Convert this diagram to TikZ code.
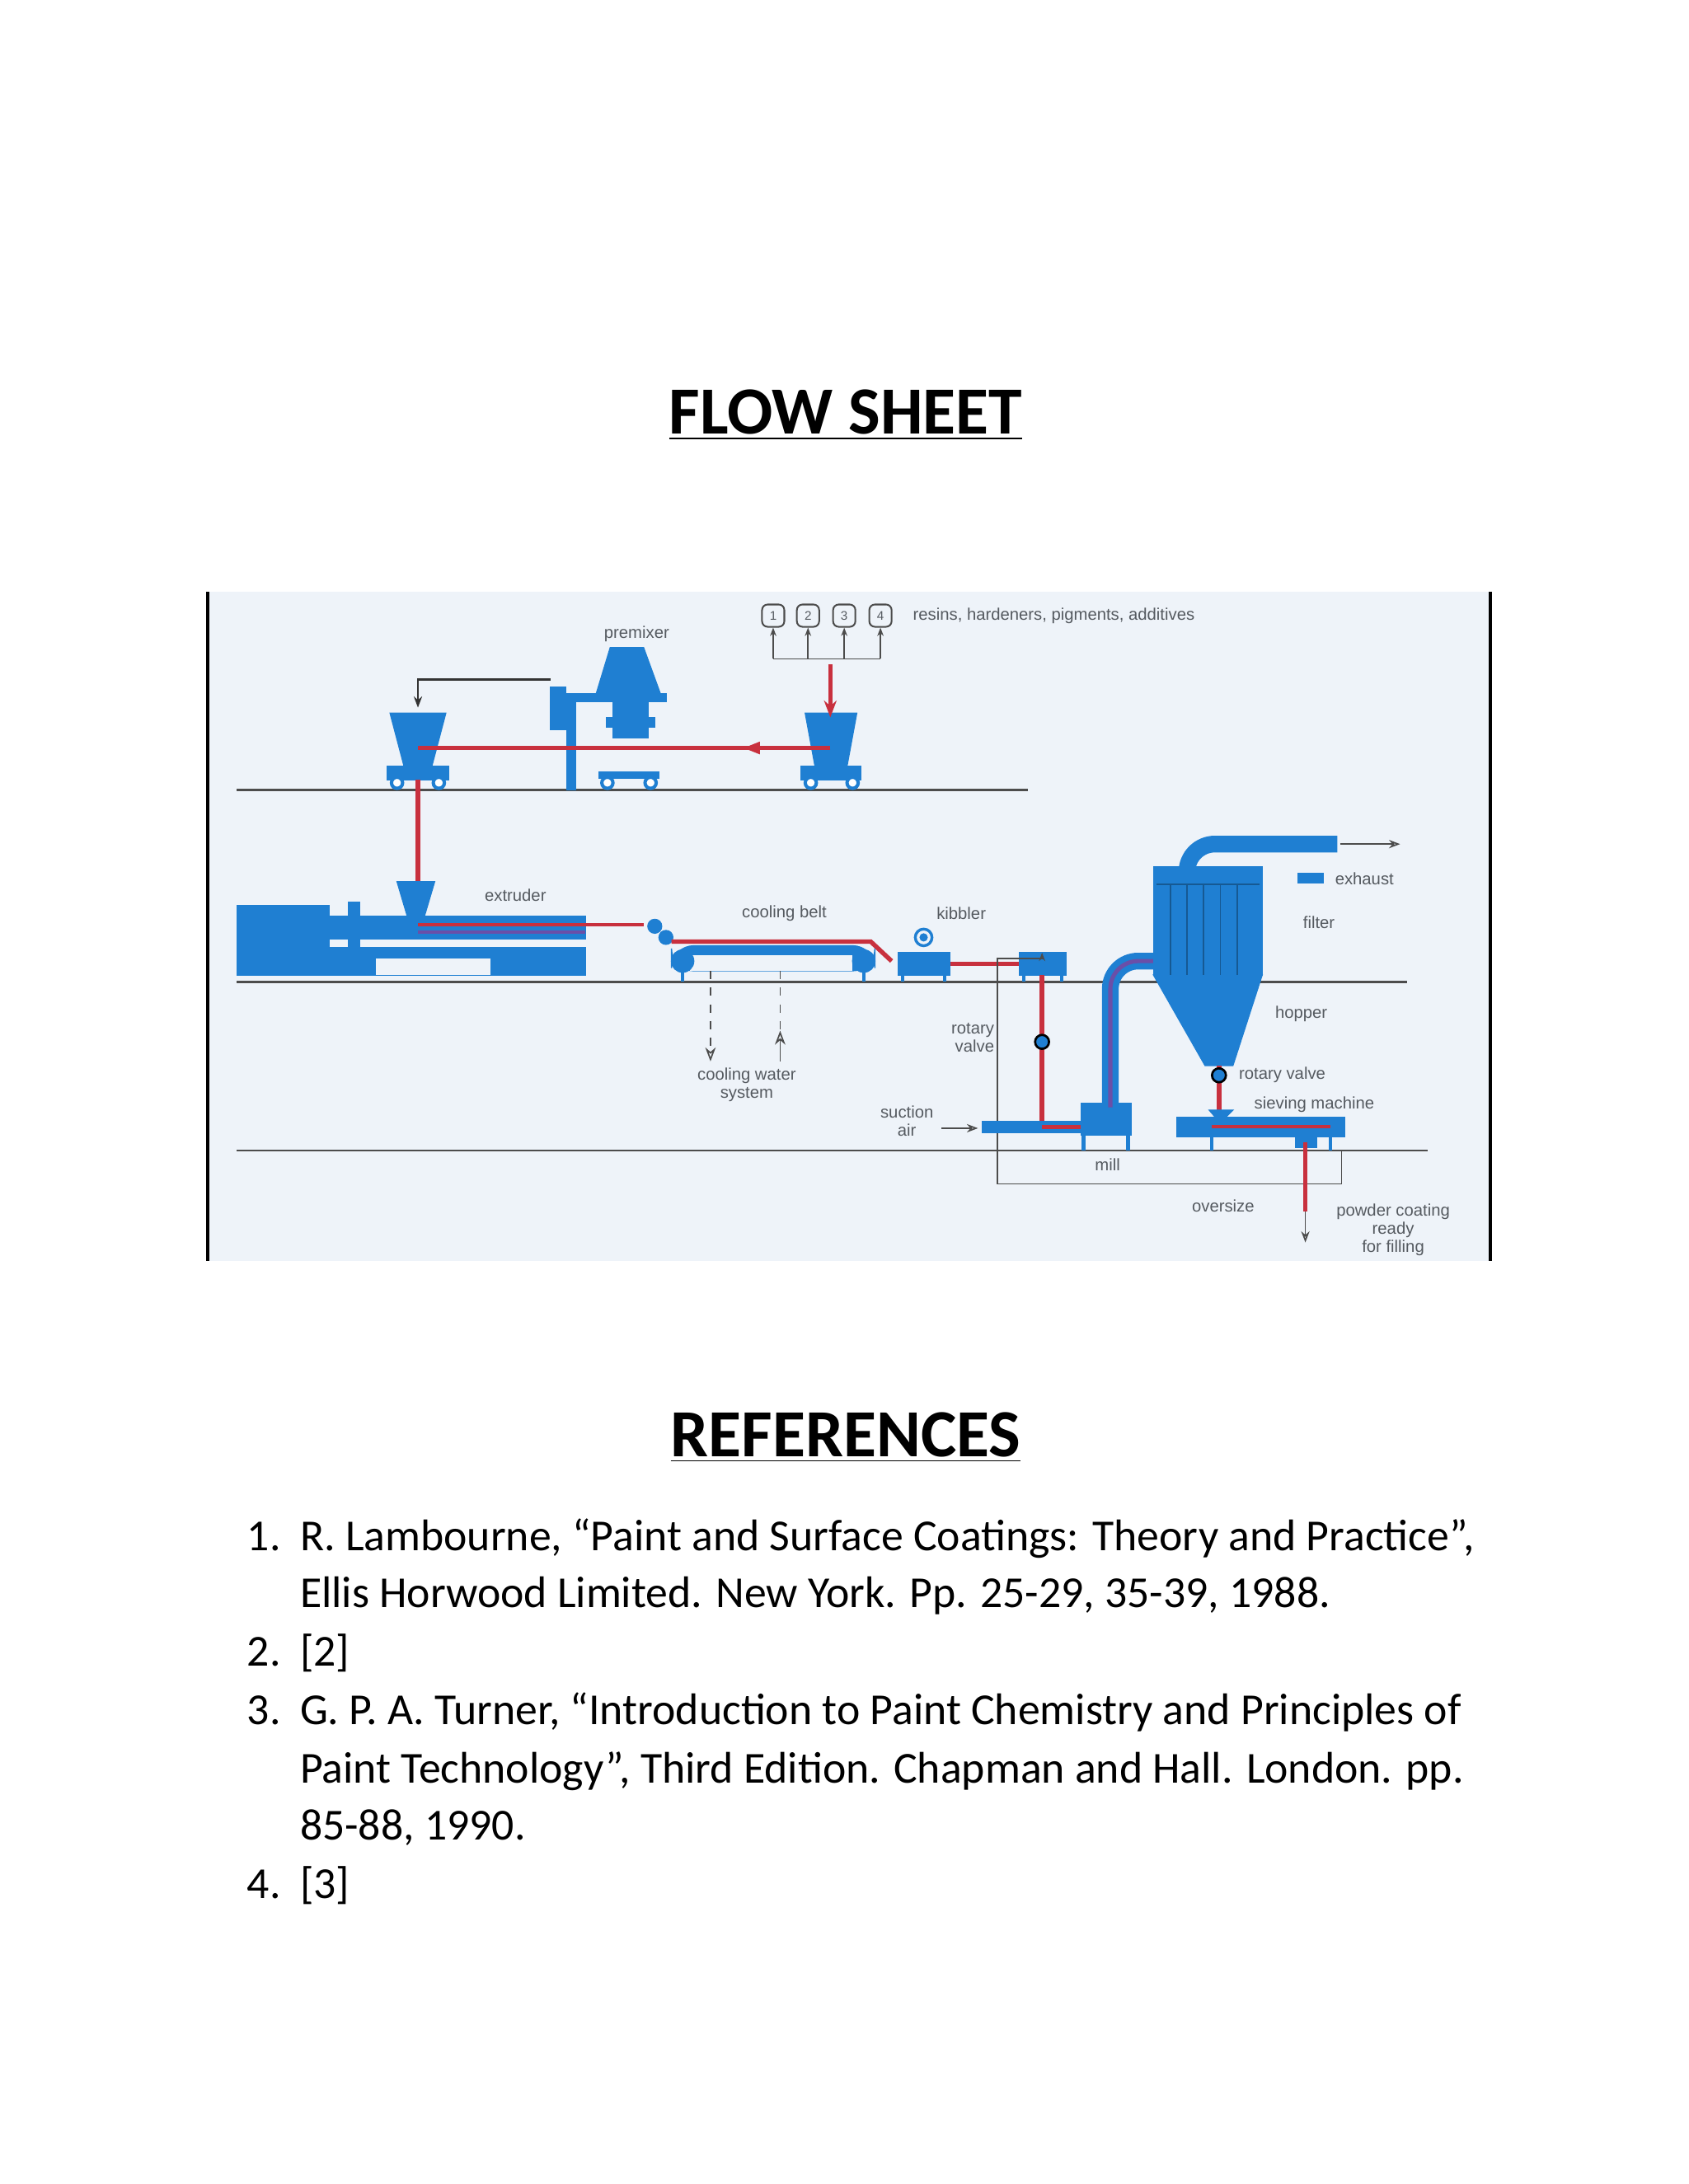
\documentclass[tikz,border=0pt]{standalone}
\usepackage{fontspec}
\setmainfont{Carlito}
\newfontfamily\lab{Liberation Sans}
\usetikzlibrary{arrows.meta}
\definecolor{bg}{HTML}{EEF3F9}
\definecolor{eq}{HTML}{1F7FD2}
\definecolor{rd}{HTML}{C8303E}
\definecolor{pu}{HTML}{6A4FA8}
\definecolor{tx}{HTML}{555A60}
\tikzset{
 eqp/.style={fill=eq,draw=eq},
 redl/.style={draw=rd,line width=1.6pt},
 thin/.style={draw=black!70,line width=0.5pt},
 floor/.style={draw=black!70,line width=0.8pt},
 lbl/.style={font=\lab\fontsize{6}{6.6}\selectfont,text=tx,inner sep=0pt,align=center},
 numc/.style={draw=black!70,line width=0.6pt,rounded corners=2pt,minimum width=8pt,minimum height=8pt,inner sep=0pt,font=\lab\fontsize{4.5}{5}\selectfont,text=tx},
 ref/.style={font=\fontsize{15.9}{20}\selectfont,anchor=base west,inner sep=0pt},
 heading/.style={font=\bfseries\fontsize{24.2}{28}\selectfont,inner sep=0pt},
}
\begin{document}
\begin{tikzpicture}[x=0.5pt,y=-0.5pt]
\fill[white] (0,0) rectangle (1212,1568);
\useasboundingbox (0,0) rectangle (1212,1568);
% title
\node[heading] (title) at (607,298) {\underline{FLOW SHEET}};
% diagram frame
\fill[bg] (149,425) rectangle (1070,905);
\draw[line width=1.2pt] (149,425) -- (149,905);
\draw[line width=1.2pt] (1070,425) -- (1070,905);
% floors
\draw[floor] (170,567) -- (738,567);
\draw[floor] (170,705) -- (1010,705);
\draw[floor] (170,826) -- (1025,826);
% ---------- top level
\foreach \i/\x in {1/555,2/580,3/606,4/632}{
 \node[numc] (n\i) at (\x,442) {\i};
 \draw[thin,-{Stealth[length=3pt]}] (\x,473) -- (n\i.south);
}
\draw[thin] (555,473) -- (632,473);
\node[lbl,anchor=west] (rhpa) at (655,442) {resins, hardeners, pigments, additives};
% right hopper
\path[eqp] (578,512) -- (615,512) -- (608,550) -- (585,550) -- cycle;
\path[eqp] (575,550) rectangle (618,560);
\foreach \x in {582,612} \draw[eq,fill=white,line width=1.2pt] (\x,562) circle (4);
% left hopper
\path[eqp] (280,512) -- (320,512) -- (310,550) -- (290,550) -- cycle;
\path[eqp] (278,550) rectangle (322,560);
\foreach \x in {285,315} \draw[eq,fill=white,line width=1.2pt] (\x,562) circle (4);
% premixer
\node[lbl] (pmx) at (457,455) {premixer};
\path[eqp] (438,465) -- (462,465) -- (474,498) -- (428,498) -- cycle;
\path[eqp] (404,498) rectangle (478,504);
\path[eqp] (440,504) rectangle (465,530);
\path[eqp] (435,515) rectangle (470,522);
\path[eqp] (430,554) rectangle (473,559);
\foreach \x in {436,467} \draw[eq,fill=white,line width=1.2pt] (\x,562) circle (4);
\path[eqp] (407,500) rectangle (413,567);
\path[eqp] (395,493) rectangle (406,524);
% red flow top
\coordinate (rtop) at (596,477);
\draw[redl,-{Stealth[length=6pt]}] (rtop) -- (596,515);
\draw[redl] (596,537) -- (300,537);
\draw[rd,fill=rd] (535,537) -- (545,533) -- (545,541) -- cycle;
\draw[black!80,line width=0.8pt,-{Stealth[length=4pt]}] (395,488) -- (300,488) -- (300,508);
\draw[redl] (300,560) -- (300,648);
% ---------- middle level
\node[lbl] (extr) at (370,643) {extruder};
\path[eqp] (170,650) rectangle (236,700);
\path[eqp] (236,658) rectangle (420,674);
\path[eqp] (236,680) rectangle (420,700);
\fill[bg] (270,688) rectangle (352,700);
\path[eqp] (250,648) rectangle (258,690);
\path[eqp] (285,633) -- (312,633) -- (304,660) -- (293,660) -- cycle;
\draw[rd,line width=1.2pt] (300,664) -- (420,664) -- (462,664);
\draw[pu,line width=1.2pt] (300,669) -- (420,669);
\draw[eq,fill=eq] (470,665) circle (5);
\draw[eq,fill=eq] (478,673) circle (5);
% cooling belt
\node[lbl] (cbelt) at (563,656) {cooling belt};
\draw[rd,line width=1.6pt] (482,676) -- (625,676) -- (640,690);
\path[eqp,rounded corners=8pt] (482,679) rectangle (628,697);
\fill[bg] (495,686) rectangle (612,697);
\draw[eq,fill=eq] (490,690) circle (8);
\draw[eq,fill=eq] (620,690) circle (8);
\foreach \x in {490,620} \draw[eq,line width=1pt] (\x,695) -- (\x,705);
% cooling water
\draw[thin,dashed,-{Stealth[length=5pt,open]}] (510,697) -- (510,762);
\draw[thin,dashed] (560,697) -- (560,742);
\draw[thin,-{Stealth[length=5pt,open]}] (560,762) -- (560,740);
\node[lbl] (cws) at (536,779) {cooling water\\system};
% kibbler
\node[lbl] (kib) at (690,656) {kibbler};
\draw[eq,line width=1pt] (663,673) circle (6);
\fill[eq] (663,673) circle (3);
\path[eqp] (645,684) rectangle (682,700);
\foreach \x in {648,678} \draw[eq,line width=1.2pt] (\x,700) -- (\x,705);
\draw[redl] (682,692) -- (732,692);
\path[eqp] (732,684) rectangle (765,700);
\foreach \x in {735,762} \draw[eq,line width=1.2pt] (\x,700) -- (\x,705);
% oversize loop
\draw[thin,-{Stealth[length=3pt]}] (963,826) -- (963,850) -- (716,850) -- (716,688) -- (748,688) -- (748,684);
% red down to mill
\draw[redl] (748,700) -- (748,808) -- (780,808);
\draw[black,fill=eq,line width=0.8pt] (748,748) circle (5);
\node[lbl,align=right,anchor=east] (rv1) at (714,745) {rotary\\valve};
% suction air
\node[lbl] (sa) at (651,805) {suction\\air};
\draw[thin,-{Stealth[length=4pt,open]}] (676,810) -- (702,810);
\path[eqp] (705,805) rectangle (778,813);
\draw[redl] (748,809) -- (778,809);
% mill
\path[eqp] (776,792) rectangle (812,815);
\foreach \x in {778,810} \draw[eq,line width=1.5pt] (\x,815) -- (\x,826);
\node[lbl] (mill) at (795,836) {mill};
% pipe mill -> filter
\draw[eq,line width=6pt,rounded corners=10pt] (797,795) -- (797,690) -- (830,690);
\draw[pu,line width=1.5pt,rounded corners=10pt] (797,795) -- (797,690) -- (830,690);
% filter and hopper
\path[eqp] (828,622) rectangle (906,700);
\path[eqp] (828,700) -- (906,700) -- (885,765) -- (865,765) -- cycle;
\foreach \x in {840,852,864,876,888}
 \draw[eq!70!black,line width=0.5pt] (\x,635) -- (\x,700);
\draw[eq!70!black,line width=0.5pt] (830,635) -- (904,635);
% exhaust
\draw[eq,line width=6pt,rounded corners=10pt] (852,622) -- (852,606) -- (960,606);
\fill[eq] (925,606) circle (5);
\draw[thin,-{Stealth[length=4pt,open]}] (962,606) -- (1005,606);
\path[eqp] (932,627) rectangle (950,634);
\node[lbl,anchor=west] (exh) at (958,631) {exhaust};
\node[lbl,anchor=west] (filt) at (935,662) {filter};
\node[lbl,anchor=west] (hopp) at (915,728) {hopper};
% hopper -> sieve
\draw[redl] (875,765) -- (875,808);
\draw[black,fill=eq,line width=0.8pt] (875,772) circle (5);
\node[lbl,anchor=west] (rv2) at (889,772) {rotary valve};
% sieving machine
\node[lbl,anchor=west] (siev) at (900,793) {sieving machine};
\path[eqp] (845,802) rectangle (965,816);
\path[eqp] (868,797) -- (885,797) -- (878,804) -- (874,804) -- cycle;
\draw[rd,line width=1.2pt] (870,809) -- (955,809);
\foreach \x in {870,955} \draw[eq,line width=1.2pt] (\x,816) -- (\x,826);
\path[eqp] (930,816) rectangle (945,824);
% product
\draw[redl] (937,820) -- (937,870);
\draw[thin,-{Stealth[length=4pt,open]}] (937,870) -- (937,892);
\node[lbl] (ovs) at (878,866) {oversize};
\node[lbl] (pcr) at (1000,883) {powder coating\\ready\\for filling};
% references
\node[heading] (refs) at (607,1032) {\underline{REFERENCES}};
\node[ref,anchor=base east] (r1n) at (202,1113) {1.};
\node[ref] (r1) at (215,1113) {R. Lambourne, “Paint and Surface Coatings: Theory and Practice”,};
\node[ref] (r1b) at (215,1154) {Ellis Horwood Limited. New York. Pp. 25-29, 35-39, 1988.};
\node[ref,anchor=base east] (r2n) at (202,1196) {2.};
\node[ref] (r2) at (215,1196) {[2]};
\node[ref,anchor=base east] (r3n) at (202,1238) {3.};
\node[ref] (r3) at (215,1238) {G. P. A. Turner, “Introduction to Paint Chemistry and Principles of};
\node[ref] (r3b) at (215,1280) {Paint Technology”, Third Edition. Chapman and Hall. London. pp.};
\node[ref] (r3c) at (215,1321) {85-88, 1990.};
\node[ref,anchor=base east] (r4n) at (202,1363) {4.};
\node[ref] (r4) at (215,1363) {[3]};
\end{tikzpicture}
\end{document}
